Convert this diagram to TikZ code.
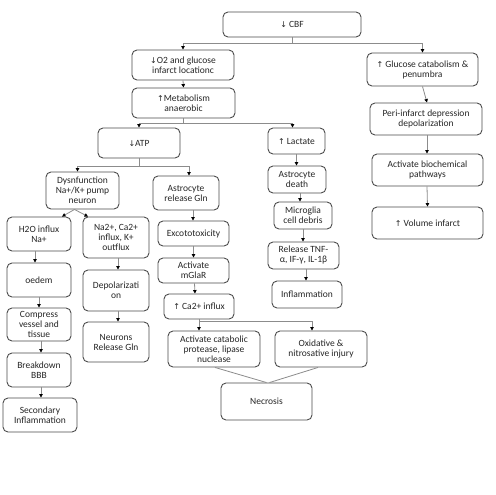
\documentclass[tikz,border=0pt]{standalone}
\usepackage{fontspec}
\setmainfont{Carlito}
\newfontfamily\arrfont{DejaVu Sans}
\usetikzlibrary{arrows.meta,calc}
\newcommand\up{{\arrfont\fontsize{8}{9}\selectfont ↑}}
\newcommand\dn{{\arrfont\fontsize{8}{9}\selectfont ↓}}
\tikzset{
  box/.style={draw=black!70, line width=0.9pt, rounded corners=5pt, align=center,
    inner sep=1pt, text=black!85, font=\fontsize{9.5}{10}\selectfont},
  conn/.style={draw=black!45, line width=0.8pt},
  arr/.style={conn, -{Triangle[length=3.5pt,width=3.5pt,color=black]}},
}
\newcommand\bx[6]{\node[box, minimum width={(#3-#2)*1pt}, minimum height={(#5-#4)*1pt}] (#1) at ({(#2+#3)/2},{(#4+#5)/2}) {#6};}
\begin{document}
\begin{tikzpicture}[x=1pt,y=-1pt]
\fill[white] (0,0) rectangle (495,495);
\useasboundingbox (0,0) rectangle (495,495);
\bx{cbf}{223}{361}{12}{37}{\dn\ CBF}
\bx{o2}{132}{234}{50}{80}{\dn O2 and glucose\\infarct locationc}
\bx{meta}{132}{235}{88}{118}{\up Metabolism\\anaerobic}
\bx{atp}{98}{180}{128}{158}{\dn ATP}
\bx{lac}{268}{325}{128}{154}{\up\ Lactate}
\bx{dys}{46}{119}{172}{209}{Dysnfunction\\Na+/K+ pump\\neuron}
\bx{ast}{153}{219}{176}{210}{Astrocyte\\release Gln}
\bx{h2o}{7}{71}{217}{251}{H2O influx\\Na+}
\bx{na}{83}{149}{217}{258}{Na2+, Ca2+\\influx, K+\\outflux}
\bx{oed}{7}{71}{263}{297}{oedem}
\bx{comp}{7}{71}{308}{341}{Compress\\vessel and\\tissue}
\bx{bbb}{7}{71}{353}{387}{Breakdown\\BBB}
\bx{sec}{3}{77}{398}{432}{Secondary\\Inflammation}
\bx{dep}{83}{149}{270}{311}{Depolarizati\\on}
\bx{neu}{83}{149}{322}{362}{Neurons\\Release Gln}
\bx{exc}{158}{229}{221}{246}{Excototoxicity}
\bx{mgl}{158}{229}{258}{283}{Activate\\mGlaR}
\bx{ca}{164}{234}{294}{319}{\up\ Ca2+ influx}
\bx{cat}{168}{260}{331}{367}{Activate catabolic\\protease, lipase\\nuclease}
\bx{oxi}{275}{367}{331}{367}{Oxidative \&\\nitrosative injury}
\bx{nec}{221}{312}{383}{420}{Necrosis}
\bx{astd}{268}{326}{166}{193}{Astrocyte\\death}
\bx{mic}{274}{332}{202}{229}{Microglia\\cell debris}
\bx{tnf}{268}{339}{242}{269}{Release TNF-\\α, IF-γ, IL-1β}
\bx{inf}{272}{342}{281}{308}{Inflammation}
\bx{glu}{367}{478}{53}{86}{\up\ Glucose catabolism \&\\penumbra}
\bx{peri}{370}{482}{103}{135}{Peri-infarct depression\\depolarization}
\bx{bio}{372}{483}{154}{186}{Activate biochemical\\pathways}
\bx{vol}{372}{483}{207}{239}{\up\ Volume infarct}
% connectors
\draw[conn] (cbf.south) -- ++(0,6) coordinate (c1);
\draw[arr] (c1) -| (o2.north);
\draw[arr] (c1) -| (glu.north);
\draw[arr] (o2.south) -- (meta.north);
\draw[conn] (meta.south) -- ++(0,5) coordinate (c2);
\draw[arr] (c2) -| (atp.north);
\draw[arr] (c2) -| ($(lac.north)+(-4,0)$);
\draw[conn] (atp.south) -- ++(0,8) coordinate (c3);
\draw[arr] (c3) -| ($(dys.north)+(-5,0)$);
\draw[arr] (c3) -| ($(ast.north)+(3,0)$);
\coordinate (c4) at ($(dys.south)+(-8,0)$);
\draw[arr] (c4) -- ($(h2o.north)+(23,0)$);
\draw[arr] (c4) -- ($(na.north)+(-28,0)$);
\draw[arr] ($(h2o.south)+(-4,0)$) -- ($(oed.north)+(-4,0)$);
\draw[arr] (oed.south) -- (comp.north);
\draw[arr] ($(comp.south)+(2,0)$) -- ($(bbb.north)+(2,0)$);
\draw[arr] ($(bbb.south)+(2,0)$) -- ($(sec.north)+(1,0)$);
\draw[arr] ($(na.south)+(2,0)$) -- ($(dep.north)+(2,0)$);
\draw[arr] ($(dep.south)+(2,0)$) -- ($(neu.north)+(2,0)$);
\draw[arr] ($(ast.south)+(7,0)$) -- ($(exc.north)+(-0.5,0)$);
\draw[arr] (exc.south) -- (mgl.north);
\draw[arr] ($(mgl.south)+(1,0)$) -- ($(ca.north)+(-4,0)$);
\draw[arr] (ca.south) -- (ca.south |- cat.north);
\draw[conn] (ca.south) -- ++(0,2) coordinate (c5);
\draw[arr] (c5) -| ($(oxi.north)+(-9,0)$);
\draw[conn] ($(cat.south)+(1,0)$) -- (nec.north);
\draw[conn] ($(oxi.south)+(-3,0)$) -- ($(nec.north)+(3,0)$);
\draw[arr] (lac.south) -- (lac.south |- astd.north);
\draw[arr] ($(astd.south)+(3,0)$) -- ($(mic.north)+(-3,0)$);
\draw[arr] ($(mic.south)+(0,0)$) -- ($(tnf.north)+(-0.5,0)$);
\draw[arr] ($(tnf.south)+(2.5,0)$) -- ($(inf.north)+(-1,0)$);
\draw[arr] (glu.south) -- ($(peri.north)+(1,0)$);
\draw[arr] ($(peri.south)+(1,0)$) -- ($(bio.north)+(-0.5,0)$);
\draw[arr] ($(bio.south)+(-0.5,0)$) -- (vol.north);
\end{tikzpicture}
\end{document}
